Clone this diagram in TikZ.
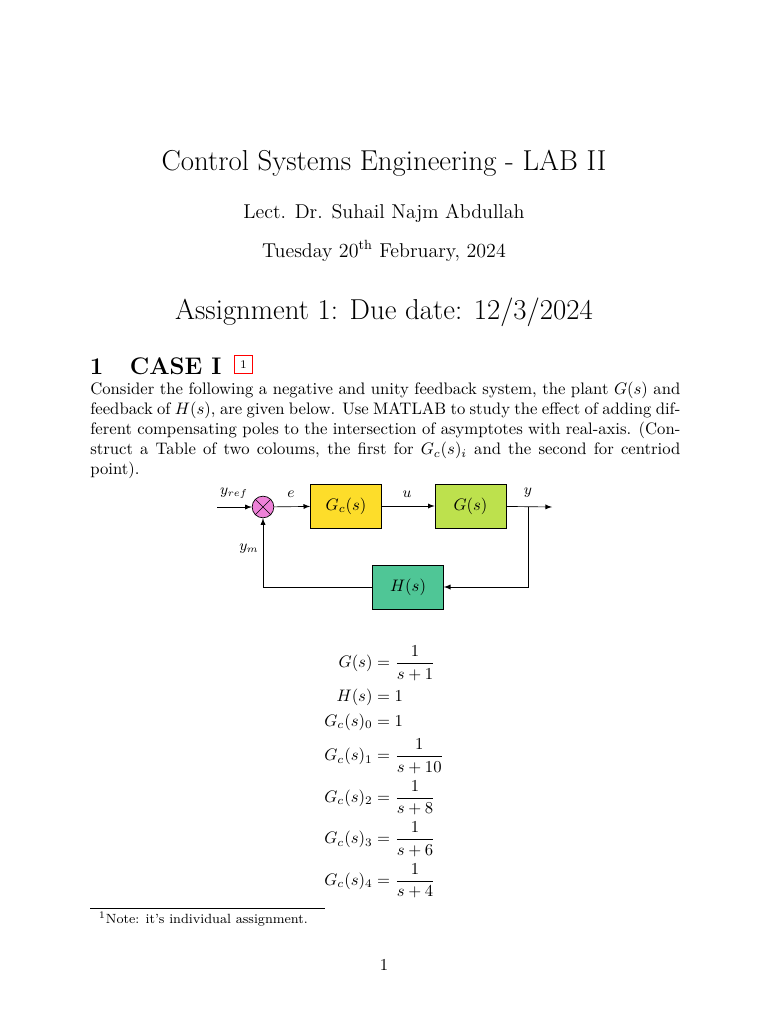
\documentclass[tikz,border=0pt]{standalone}
\usepackage{amsmath}
\begin{document}
\begin{tikzpicture}[x=0.6pt,y=-0.6pt,
  blk/.style={draw,minimum width=42.6pt,minimum height=26.4pt,inner sep=0pt},
  lbl/.style={font=\small},
  ar/.style={-latex}]
\useasboundingbox (0,0) rectangle (768,1024);
\node (title) at (384,163) {\LARGE Control Systems Engineering - LAB II};
\node (auth) at (384,213) {\large Lect. Dr. Suhail Najm Abdullah};
\node (date) at (384,251) {\large Tuesday 20\textsuperscript{th} February, 2024};
\node (asg) at (384,312) {\LARGE Assignment 1: Due date: 12/3/2024};
\node[anchor=west] (sec) at (84,365) {\Large\bfseries 1\hspace{1.1em}CASE I \,\raisebox{0.6ex}{\fcolorbox{red}{white}{\normalfont\scriptsize 1}}};
\node[anchor=north west,text width=354pt,align=justify,inner sep=0pt,font=\normalsize] (par) at (90,382)
{Consider the following a negative and unity feedback system, the plant $G(s)$ and feedback of $H(s)$, are given below. Use MATLAB to study the effect of adding different compensating poles to the intersection of asymptotes with real-axis. (Construct a Table of two coloums, the first for $G_c(s)_i$ and the second for centriod point).};
% block diagram
\definecolor{cy}{HTML}{FDDD2A}\definecolor{cg}{HTML}{BDE14D}\definecolor{ch}{HTML}{4FC696}\definecolor{cp}{HTML}{EE82D8}
\node[draw,circle,fill=cp,minimum size=13pt,inner sep=0pt] (sum) at (263,507) {};
\draw (sum.north west)--(sum.south east) (sum.north east)--(sum.south west);
\node[blk,fill=cy] (gc) at (346,506) {$G_c(s)$};
\node[blk,fill=cg] (g) at (470.5,506) {$G(s)$};
\node[blk,fill=ch] (h) at (408,587) {$H(s)$};
\coordinate (in) at (217,507);
\coordinate (out) at (552,507);
\coordinate (br) at (528,507);
\draw[ar] (in)--(sum);
\draw[ar] (sum)--(gc);
\draw[ar] (gc)--(g);
\draw[ar] (g)--(out);
\draw[ar] (br)|-(h);
\draw[ar] (h)-|(sum);
\node[lbl] at (234,493) {$y_{ref}$};
\node[lbl] at (291,494) {$e$};
\node[lbl] at (407,494) {$u$};
\node[lbl] at (528,493) {$y$};
\node[lbl] at (249,549) {$y_m$};
% equations
\node (eq) at (384,772) {$\begin{aligned}
G(s)&=\frac{1}{s+1}\\
H(s)&=1\\
G_c(s)_0&=1\\
G_c(s)_1&=\frac{1}{s+10}\\
G_c(s)_2&=\frac{1}{s+8}\\
G_c(s)_3&=\frac{1}{s+6}\\
G_c(s)_4&=\frac{1}{s+4}
\end{aligned}$};
\draw[line width=0.4pt] (90,908)--(325,908);
\node[anchor=west,font=\footnotesize] (fn) at (100,919) {\llap{\textsuperscript{1}}Note: it's individual assignment.};
\node (pg) at (384,965) {1};
\end{tikzpicture}
\end{document}
